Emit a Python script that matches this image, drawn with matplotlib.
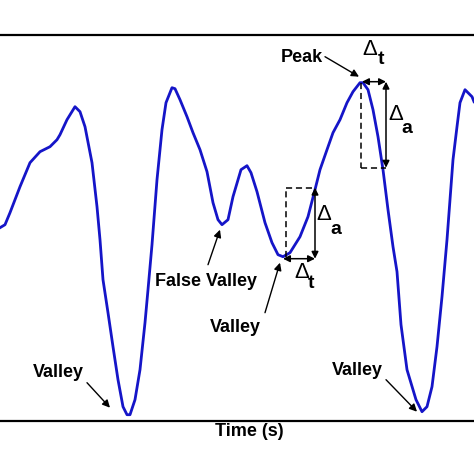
import matplotlib
matplotlib.use("Agg")
import matplotlib.pyplot as plt

# Signal (time in arbitrary units, amplitude in arbitrary units)
time = [0, 5, 10, 20, 30, 40, 50, 57, 60, 67, 75, 80, 85, 92, 97, 100, 103, 108, 113, 118,
        123, 127, 130, 135, 140, 145, 148, 152, 157, 162, 166, 172, 175, 180, 187, 193, 200,
        207, 213, 218, 222, 228, 233, 241, 247, 251, 257, 265, 272, 278, 283, 290, 300, 308,
        315, 320, 327, 333, 340, 347, 353, 360, 363, 368, 373, 378, 383, 388, 393, 397, 401,
        407, 416, 422, 427, 432, 437, 442, 447, 453, 457, 460, 465, 472, 474]
amplitude = [193, 196, 208, 234, 258, 269, 274, 281, 286, 301, 314, 309, 294, 258, 214, 181,
             141, 108, 74, 41, 14, 6, 6, 21, 51, 98, 131, 176, 241, 291, 318, 333, 332, 321,
             304, 288, 271, 249, 218, 201, 196, 201, 224, 251, 255, 248, 229, 198, 178, 166,
             164, 168, 184, 204, 231, 251, 271, 288, 301, 318, 329, 338, 338, 331, 311, 284,
             251, 211, 174, 149, 96, 51, 21, 9, 14, 34, 74, 124, 181, 261, 294, 318, 331, 324, 319]

# Annotation labels
labels = ["Peak", "False Valley", "Valley", "Valley", "Valley"]
label_pos = [(302, 363), (206, 139), (235, 93), (58, 48), (357, 50)]
arrow_tail = [(325, 364), (208, 156), (265, 108), (87, 38), (386, 41)]
arrow_tip = [(359, 344), (220, 191), (280, 158), (110, 13), (417, 9)]

fig = plt.figure(figsize=(4.74, 4.74), dpi=100)
ax = fig.add_axes([0, 53.3 / 474, 1, 386 / 474])
ax.plot(time, amplitude, color="#1515c8", lw=2.0, solid_joinstyle="round")
ax.set_xlim(0, 474)
ax.set_ylim(0, 386)
ax.set_xticks([])
ax.set_yticks([])
for s in ["left", "right"]:
    ax.spines[s].set_visible(False)
for s in ["top", "bottom"]:
    ax.spines[s].set_linewidth(1.6)

font_bold = dict(family="Liberation Sans", weight="bold", size=13)

for lab, pos, tail, tip in zip(labels, label_pos, arrow_tail, arrow_tip):
    ax.text(pos[0], pos[1], lab, ha="center", va="center", **font_bold)
    ax.annotate("", xy=tip, xytext=tail,
                arrowprops=dict(arrowstyle="-|>", color="black", lw=1.0,
                                mutation_scale=11, shrinkA=0, shrinkB=0))

# Peak Δ box
dash = dict(color="black", lw=1.1, ls=(0, (4, 2.5)))
ax.plot([361, 361], [338, 253], **dash)
ax.plot([361, 386], [253, 253], **dash)
dbl = dict(arrowstyle="<|-|>", color="black", lw=1.1, mutation_scale=10, shrinkA=0, shrinkB=0)
ax.annotate("", xy=(362, 339), xytext=(386, 339), arrowprops=dbl)
ax.annotate("", xy=(386, 339), xytext=(386, 253), arrowprops=dbl)

# Valley Δ box
ax.plot([286, 286], [164, 233], **dash)
ax.plot([286, 315], [233, 233], **dash)
ax.annotate("", xy=(283, 162), xytext=(315, 162), arrowprops=dbl)
ax.annotate("", xy=(315, 162), xytext=(315, 233), arrowprops=dbl)

# Δ labels
delta_font = dict(family="Liberation Sans", size=16)
sub_font = dict(family="Liberation Sans", weight="bold", size=14)
deltas = [((370, 371), (381, 361), "t"), ((395.5, 306), (407, 292), "a"),
          ((324, 206), (336, 191), "a"), ((301.5, 148.5), (311.5, 137.5), "t")]
for dpos, spos, sub in deltas:
    ax.text(dpos[0], dpos[1], "\u0394", ha="center", va="center", **delta_font)
    ax.text(spos[0], spos[1], sub, ha="center", va="center", **sub_font)

fig.text(249 / 474, 1 - 432 / 474, "Time (s)", ha="center", va="center", **font_bold)

fig.savefig("out.png", dpi=100)
